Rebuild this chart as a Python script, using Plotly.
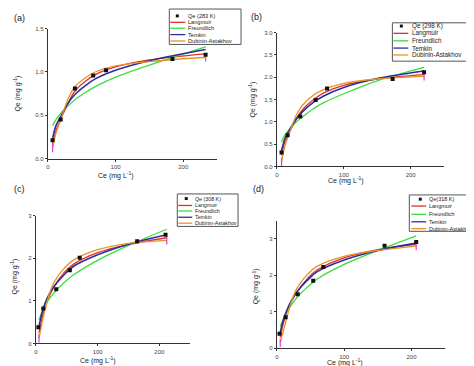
import plotly.graph_objects as go

W, H = 474, 366

# ---------------- data ----------------
# Panel (a) 283 K
a_ce = [7, 19, 40, 67, 86, 184, 233]
a_qe = [0.21, 0.45, 0.81, 0.96, 1.02, 1.15, 1.20]
a_cx = [7, 12, 20, 30, 40, 55, 70, 100, 150, 233]
a_lang = [0.17, 0.32, 0.47, 0.64, 0.78, 0.89, 0.97, 1.06, 1.14, 1.21]
a_freu = [0.38, 0.45, 0.53, 0.61, 0.68, 0.76, 0.83, 0.94, 1.08, 1.29]
a_temk = [0.23, 0.38, 0.50, 0.64, 0.74, 0.84, 0.92, 1.02, 1.13, 1.26]
a_duba = [0.12, 0.29, 0.47, 0.69, 0.83, 0.93, 1.00, 1.07, 1.12, 1.17]

# Panel (b) 298 K
b_ce = [7, 16, 35, 58, 75, 173, 220]
b_qe = [0.31, 0.70, 1.12, 1.49, 1.75, 1.96, 2.11]
b_cx = [7, 12, 20, 30, 40, 55, 70, 100, 150, 220]
b_lang = [0.25, 0.55, 0.80, 1.10, 1.30, 1.50, 1.65, 1.82, 1.96, 2.06]
b_freu = [0.55, 0.70, 0.85, 1.01, 1.13, 1.30, 1.43, 1.63, 1.92, 2.22]
b_temk = [0.35, 0.62, 0.85, 1.08, 1.25, 1.44, 1.58, 1.77, 1.97, 2.14]
b_duba = [0.10, 0.45, 0.80, 1.18, 1.40, 1.60, 1.72, 1.86, 1.96, 2.02]

# Panel (c) 308 K
c_ce = [4, 12, 33, 55, 71, 164, 210]
c_qe = [0.38, 0.82, 1.27, 1.72, 2.01, 2.40, 2.55]
c_cx = [5, 10, 15, 22, 30, 45, 60, 100, 150, 212]
c_lang = [0.25, 0.60, 0.85, 1.12, 1.35, 1.65, 1.85, 2.13, 2.32, 2.48]
c_freu = [0.55, 0.75, 0.90, 1.05, 1.20, 1.42, 1.60, 1.95, 2.30, 2.68]
c_temk = [0.40, 0.72, 0.95, 1.17, 1.35, 1.60, 1.80, 2.08, 2.33, 2.55]
c_duba = [0.12, 0.48, 0.80, 1.17, 1.45, 1.75, 1.95, 2.20, 2.35, 2.42]

# Panel (d) 318 K
d_ce = [4, 13, 31, 54, 69, 160, 207]
d_qe = [0.40, 0.85, 1.48, 1.85, 2.23, 2.81, 2.91]
d_cx = [5, 10, 15, 22, 30, 45, 60, 100, 150, 207]
d_lang = [0.30, 0.70, 1.00, 1.30, 1.55, 1.90, 2.15, 2.48, 2.70, 2.85]
d_freu = [0.60, 0.82, 1.00, 1.20, 1.40, 1.67, 1.90, 2.30, 2.68, 3.08]
d_temk = [0.45, 0.80, 1.05, 1.32, 1.55, 1.86, 2.10, 2.42, 2.68, 2.88]
d_duba = [0.15, 0.50, 0.85, 1.30, 1.65, 2.02, 2.25, 2.52, 2.68, 2.80]

series_names = ["Langmuir", "Freundlich", "Temkin", "Dubinin-Astakhov"]
colors = ["#e0302c", "#3ddc3d", "#2e2e9e", "#e8922a"]
widths = [1.3, 1.3, 1.6, 1.3]

panels = [
    dict(lab="(a)", temp="Qe (283 K)", ce=a_ce, qe=a_qe, cx=a_cx, fits=[a_lang, a_freu, a_temk, a_duba],
         xpx=(38, 208), ypx=(150, 18), yr=(0, 1.5), ytick=[0.0, 0.5, 1.0, 1.5], yfmt=".1f",
         labpos=(2, 7), xt=(106, 167), yt=(8, 84),
         leg=dict(box=(160, -2, 232, 34), rows=[5, 11.5, 17.5, 24, 30.5], lx=(161, 176), tx=177, sq=168, fs=5.6)),
    dict(lab="(b)", temp="Qe (298 K)", ce=b_ce, qe=b_qe, cx=b_cx, fits=[b_lang, b_freu, b_temk, b_duba],
         xpx=(268, 436), ypx=(158, 22), yr=(0, 3.0), ytick=[0.0, 0.5, 1.0, 1.5, 2.0, 2.5, 3.0], yfmt=".1f",
         labpos=(240, 6), xt=(337, 172), yt=(244, 90),
         leg=dict(box=(384, 12, 460, 51), rows=[15.3, 22.7, 30.3, 37.7, 44.7], lx=(385, 400), tx=402, sq=393, fs=6.3)),
    dict(lab="(c)", temp="Qe (308 K)", ce=c_ce, qe=c_qe, cx=c_cx, fits=[c_lang, c_freu, c_temk, c_duba],
         xpx=(26, 181), ypx=(338, 208), yr=(0, 3), ytick=[0, 1, 2, 3], yfmt="d",
         labpos=(2, 181), xt=(88, 355), yt=(5, 270),
         leg=dict(box=(168, 186, 229, 219), rows=[190.7, 197.7, 203.3, 209.7, 215.7], lx=(169, 183), tx=184, sq=177, fs=5.3)),
    dict(lab="(d)", temp="Qe(318 K)", ce=d_ce, qe=d_qe, cx=d_cx, fits=[d_lang, d_freu, d_temk, d_duba],
         xpx=(268, 437), ypx=(343, 213), yr=(0, 3.5), ytick=[0, 1, 2, 3], yfmt="d",
         labpos=(242, 181), xt=(336, 357), yt=(247, 280),
         leg=dict(box=(401, 187, 473, 224), rows=[191.3, 198.3, 206.7, 214.3, 221.3], lx=(403, 418), tx=419, sq=412, fs=5.5)),
]

fig = go.Figure()
FONT = "Liberation Sans, Arial, sans-serif"

def px(x):
    return x / W

def py(y):
    return 1 - y / H

shapes = []
annotations = []
for i, p in enumerate(panels):
    k = "" if i == 0 else str(i + 1)
    xa, ya = "x" + k, "y" + k
    for name, col, wd, ys in zip(series_names, colors, widths, p["fits"]):
        fig.add_trace(go.Scatter(x=p["cx"], y=ys, mode="lines", line=dict(color=col, width=wd, shape="spline", smoothing=1.0),
                                 name=name, showlegend=False, xaxis=xa, yaxis=ya))
    # magenta end marks
    fig.add_trace(go.Scatter(x=[p["cx"][0], p["cx"][-1]], y=[min(f[0] for f in p["fits"]), min(f[-1] for f in p["fits"])],
                             mode="markers", marker=dict(symbol="line-ns", size=6, line=dict(color="#e040d0", width=1.2)),
                             showlegend=False, xaxis=xa, yaxis=ya, hoverinfo="skip"))
    fig.add_trace(go.Scatter(x=p["ce"], y=p["qe"], mode="markers", marker=dict(symbol="square", size=4, color="#111"),
                             name=p["temp"], showlegend=False, xaxis=xa, yaxis=ya))
    x0, x1 = p["xpx"]
    yb, yt_ = p["ypx"]
    axcommon = dict(showgrid=False, zeroline=False, showline=True, linecolor="#333", linewidth=1,
                    ticks="outside", ticklen=2, tickwidth=1, tickcolor="#333",
                    tickfont=dict(size=6, color="#444", family=FONT))
    fig.layout["xaxis" + k] = dict(domain=[px(x0), px(x1)], range=[0, 250], anchor=ya,
                                   tickvals=[0, 100, 200], **axcommon)
    fig.layout["yaxis" + k] = dict(domain=[py(yb), py(yt_)], range=list(p["yr"]), anchor=xa,
                                   tickvals=p["ytick"], tickformat=p["yfmt"], **axcommon)
    # labels
    annotations.append(dict(x=px(p["labpos"][0]), y=py(p["labpos"][1]), xref="paper", yref="paper",
                            text=p["lab"], showarrow=False, xanchor="left", yanchor="middle",
                            font=dict(size=9, color="#222", family=FONT)))
    annotations.append(dict(x=px(p["xt"][0]), y=py(p["xt"][1]), xref="paper", yref="paper",
                            text="Ce (mg L<sup>-1</sup>)", showarrow=False, xanchor="center", yanchor="middle",
                            font=dict(size=7, color="#222", family=FONT)))
    annotations.append(dict(x=px(p["yt"][0]), y=py(p["yt"][1]), xref="paper", yref="paper",
                            text="Qe (mg g<sup>-1</sup>)", showarrow=False, textangle=-90, xanchor="center", yanchor="middle",
                            font=dict(size=7, color="#222", family=FONT)))
    # legend
    L = p["leg"]
    bx0, by0, bx1, by1 = L["box"]
    shapes.append(dict(type="rect", xref="paper", yref="paper", x0=px(bx0), x1=px(bx1), y0=py(by1), y1=py(by0),
                       line=dict(color="#555", width=1), fillcolor="white", layer="above"))
    rows = L["rows"]
    shapes.append(dict(type="rect", xref="paper", yref="paper", x0=px(L["sq"] - 1.5), x1=px(L["sq"] + 1.5),
                       y0=py(rows[0] + 1.5), y1=py(rows[0] - 1.5), line=dict(width=0), fillcolor="#111", layer="above"))
    texts = [p["temp"]] + series_names
    for j, r in enumerate(rows):
        if j > 0:
            shapes.append(dict(type="line", xref="paper", yref="paper", x0=px(L["lx"][0]), x1=px(L["lx"][1]),
                               y0=py(r), y1=py(r), line=dict(color=colors[j - 1], width=1.3), layer="above"))
        annotations.append(dict(x=px(L["tx"]), y=py(r), xref="paper", yref="paper", text=texts[j],
                                showarrow=False, xanchor="left", yanchor="middle",
                                font=dict(size=L["fs"], color="#222", family=FONT)))

fig.update_layout(width=W, height=H, margin=dict(l=0, r=0, t=0, b=0), paper_bgcolor="white",
                  plot_bgcolor="white", shapes=shapes, annotations=annotations, showlegend=False)
fig.write_html("out.html")
